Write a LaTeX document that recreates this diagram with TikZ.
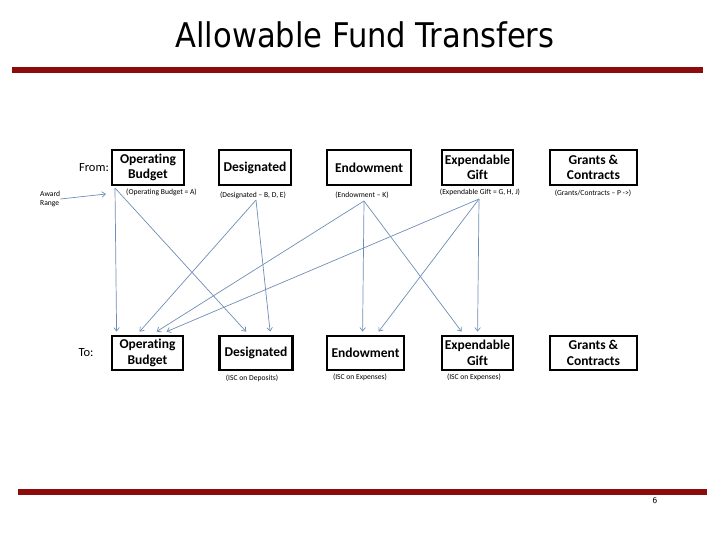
\documentclass[tikz,border=0pt]{standalone}
\usepackage{fontspec}
\setmainfont{Carlito}[Ligatures=NoCommon]
\newfontfamily\titlefont{DejaVu Sans Condensed}
\usetikzlibrary{arrows.meta,calc}
\definecolor{barred}{HTML}{8C0B0B}
\definecolor{arrblue}{HTML}{6F8DB6}
\tikzset{
  fund/.style={draw=black,line width=2.8pt,rectangle,align=center,font=\fontsize{13.5}{15.5}\selectfont\bfseries,inner sep=0pt},
  sub/.style={font=\fontsize{7.6}{8.5}\selectfont,inner sep=0pt},
  lbl/.style={font=\fontsize{12.5}{14}\selectfont,inner sep=0pt},
  arr/.style={draw=arrblue,line width=0.7pt,-{Straight Barb[length=3.5pt,width=5.5pt]}},
  bar/.style={draw=barred,line width=5.5pt}
}
\begin{document}
\begin{tikzpicture}[x=1pt,y=-1pt]
\useasboundingbox (0,0) rectangle (720,540);
% title and bars
\node[font=\titlefont\fontsize{34}{37}\selectfont,inner sep=0pt] (title) at (365,35) {Allowable Fund Transfers};
\coordinate (b1l) at (12,70); \coordinate (b1r) at (703,70);
\draw[bar] (b1l) -- (b1r);
\coordinate (b2l) at (18,492); \coordinate (b2r) at (707,492);
\draw[bar] (b2l) -- (b2r);
\node[font=\sffamily\fontsize{9}{10}\selectfont,inner sep=0pt] (pg) at (655,501) {6};
% from row
\node[lbl] (from) at (94,168) {From:};
\node[fund,minimum width=72,minimum height=35] (fOB) at (148,167.5) {Operating\\Budget};
\node[fund,minimum width=72,minimum height=35] (fDes) at (255,167.5) {Designated};
\node[fund,minimum width=84,minimum height=35] (fEnd) at (369,167.5) {Endowment};
\node[fund,minimum width=71,minimum height=35] (fExp) at (477.5,167.5) {Expendable\\Gift};
\node[fund,minimum width=87,minimum height=35] (fGC) at (593.5,167.5) {Grants \&\\Contracts};
\node[sub,anchor=west] (sOBl) at (126,192) {(Operating Budget = A)};
\node[sub] (sDesl) at (253,195) {(Designated -- B, D, E)};
\node[sub] (sEndl) at (362,195) {(Endowment -- K)};
\node[sub] (sExpl) at (480,192) {(Expendable Gift = G, H, J)};
\node[sub] (sGCl) at (593,193) {(Grants/Contracts -- P ->)};
\node[sub,align=left,anchor=west] (award) at (40,199) {Award\\Range};
\coordinate (awardtip) at (106,194);
\draw[arr] (award.east) -- (awardtip);
% to row
\node[lbl] (to) at (86,353) {To:};
\node[fund,minimum width=71,minimum height=34] (tOB) at (147.5,353) {Operating\\Budget};
\node[fund,minimum width=73,minimum height=34] (tDes) at (256,353) {Designated};
\node[fund,minimum width=77,minimum height=34] (tEnd) at (365.5,353) {Endowment};
\node[fund,minimum width=71,minimum height=34] (tExp) at (477.5,353) {Expendable\\Gift};
\node[fund,minimum width=87,minimum height=34] (tGC) at (593.5,353) {Grants \&\\Contracts};
\node[sub] (tDesl) at (252,378) {(ISC on Deposits)};
\node[sub] (tEndl) at (360,377) {(ISC on Expenses)};
\node[sub] (tExpl) at (474,377) {(ISC on Expenses)};
% arrow sources
\coordinate (sOB) at (115,188);
\coordinate (sDes) at (256,200);
\coordinate (sEnd) at (364,201);
\coordinate (sExp) at (479,199);
% arrows
\draw[arr] (sOB) -- ([shift={(6,-3)}]tOB.north west);
\draw[arr] (sOB) -- ([shift={(28,-3)}]tDes.north west);
\draw[arr] (sDes) -- ([shift={(29,-3)}]tOB.north west);
\draw[arr] (sDes) -- ([shift={(52,-3)}]tDes.north west);
\draw[arr] (sEnd) -- ([shift={(46,-3)}]tOB.north west);
\draw[arr] (sEnd) -- ([shift={(37,-3)}]tEnd.north west);
\draw[arr] (sEnd) -- ([shift={(21,-3)}]tExp.north west);
\draw[arr] (sExp) -- ([shift={(56,-3)}]tOB.north west);
\draw[arr] (sExp) -- ([shift={(53,-3)}]tEnd.north west);
\draw[arr] (sExp) -- ([shift={(37,-3)}]tExp.north west);
\end{tikzpicture}
\end{document}
